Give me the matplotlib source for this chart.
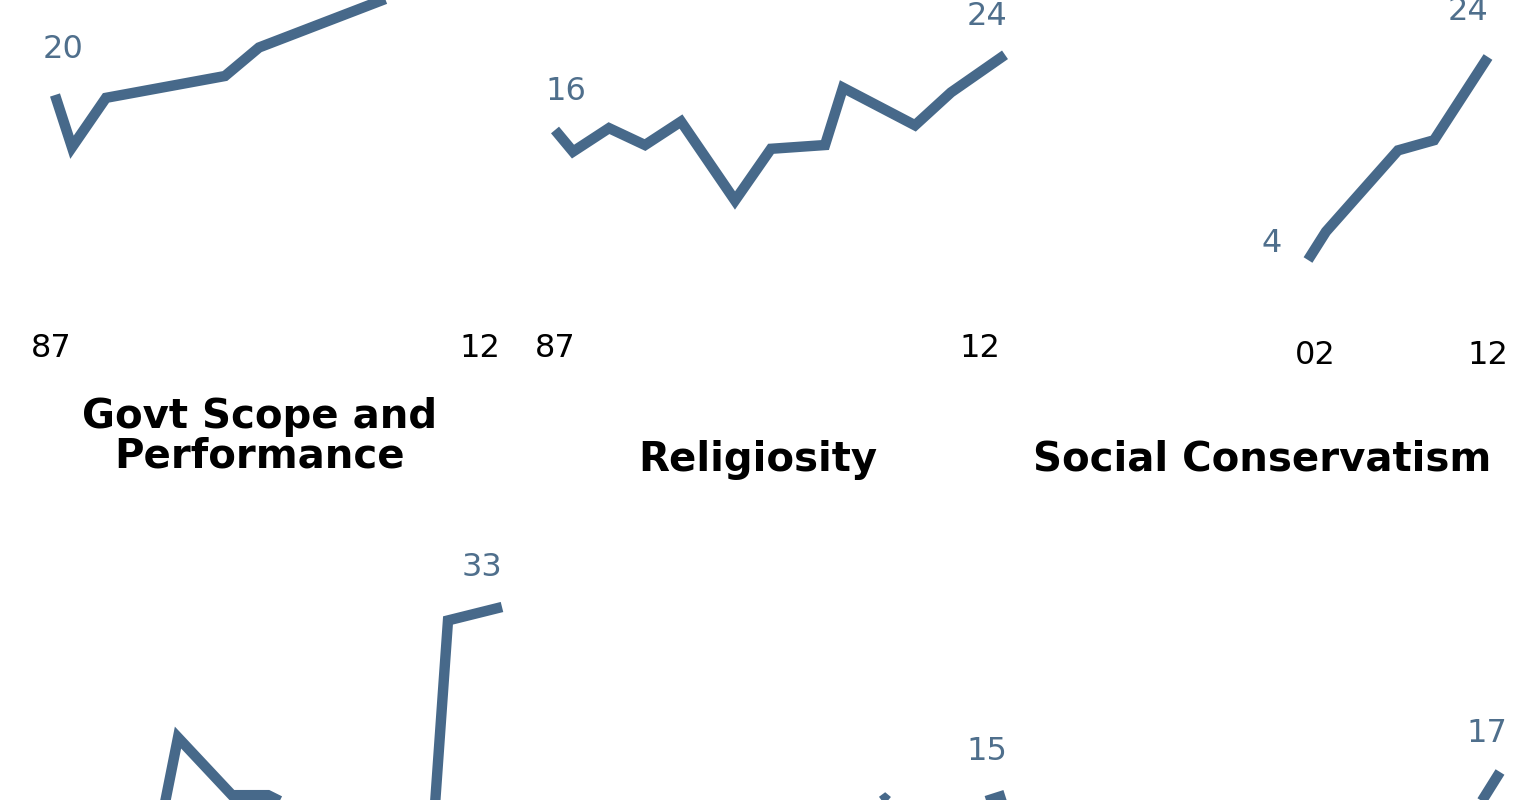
import matplotlib
matplotlib.use('Agg')
import matplotlib.pyplot as plt
from matplotlib.transforms import blended_transform_factory

LINE = '#47698a'
LABEL = '#4f6f8c'

# panel data (years as offset from 1900, values in percent)
govt_years = [87, 88, 90, 97, 99, 107, 112]
govt_vals = [20, 14.5, 19.7, 22, 25, 30.5, 36]
relig_years = [87, 88, 90, 92, 94, 97, 99, 102, 103, 107, 109, 112]
relig_vals = [16, 13.7, 16.2, 14.4, 16.9, 8.5, 14, 14.4, 20.5, 16.5, 20, 24]
social_years = [102, 103, 107, 109, 112]
social_vals = [4, 6.8, 14.8, 15.8, 24]
bl_years = [93, 94, 97, 99, 108, 109, 112]
bl_vals = [10, 19.4, 13.4, 13.4, 5, 31.6, 33]
bm_years = [106, 108, 109, 112]
bm_vals = [10, 14.6, 12, 15]
br_years = [110, 112]
br_vals = [12, 17]

titles = ['Govt Scope and\nPerformance', 'Religiosity', 'Social Conservatism']

W, H = 1528, 800
NUM_FS = 23
fig = plt.figure(figsize=(W / 100, H / 100), dpi=100)


def panel(years, vals, x_first, ppy, y_ref, ppu, ticks=None, lab_offsets=None):
    """axes spanning the whole figure, scaled so the series lands where it should"""
    ax = fig.add_axes([0, 0, 1, 1])
    ax.set_axis_off()
    y0 = years[0]
    ax.set_xlim(y0 - x_first / ppy, y0 + (W - x_first) / ppy)
    ref = vals[-1] if y_ref[0] == 'last' else vals[0]
    ypx = y_ref[1]
    # pixel 0 is top of figure
    ax.set_ylim(ref - (H - ypx) / ppu, ref + ypx / ppu)
    ax.plot(years, vals, color=LINE, lw=7.5, solid_joinstyle='miter', solid_capstyle='butt')
    offs = lab_offsets or [(-8, 40), (-18, 40)]
    for (yr, v), off in zip([(years[0], vals[0]), (years[-1], vals[-1])], offs):
        if off is None:
            continue
        ax.annotate(f'{v:.0f}', (yr, v), xytext=off, textcoords='offset pixels',
                    ha='center', va='center', fontsize=NUM_FS, color=LABEL)
    if ticks:
        tr = blended_transform_factory(ax.transData, fig.transFigure)
        for yr, txt in ticks:
            ax.text(yr, 1 - 348 / H, txt, transform=tr, ha='center', va='center',
                    fontsize=NUM_FS, color='black')
    return ax


panel(govt_years, govt_vals, 55, 17, ('first', 95), 9.5,
      ticks=[(86.8, '87'), (112, '12')], lab_offsets=[(8, 45), None])
panel(relig_years, relig_vals, 555, 18, ('first', 130), 9.4,
      ticks=[(87, '87'), (110.6, '12')], lab_offsets=[(11, 38), (-18, 38)])
panel(social_years, social_vals, 1308, 18, ('first', 260), 10.15,
      ticks=[], lab_offsets=[(-36, 17), (-20, 45)])
fig.text(1315 / W, 1 - 355 / H, '02', ha='center', va='center', fontsize=NUM_FS)
fig.text(1488 / W, 1 - 355 / H, '12', ha='center', va='center', fontsize=NUM_FS)

panel(bl_years, bl_vals, 160, 18, ('last', 607), 9.6, lab_offsets=[None, (-20, 39)])
panel(bm_years, bm_vals, 1005 - 6 * 30, 30, ('last', 795), 9.6, lab_offsets=[None, (-18, 43)])
panel(br_years, br_vals, 1470, 15, ('last', 772), 9.6, lab_offsets=[None, (-13, 39)])

for x, y, t in [(260, 437, titles[0]), (758, 460, titles[1]), (1262, 460, titles[2])]:
    fig.text(x / W, 1 - y / H, t, ha='center', va='center', fontsize=29,
             fontweight='bold', linespacing=1.0)

fig.savefig('out.png', dpi=100)
